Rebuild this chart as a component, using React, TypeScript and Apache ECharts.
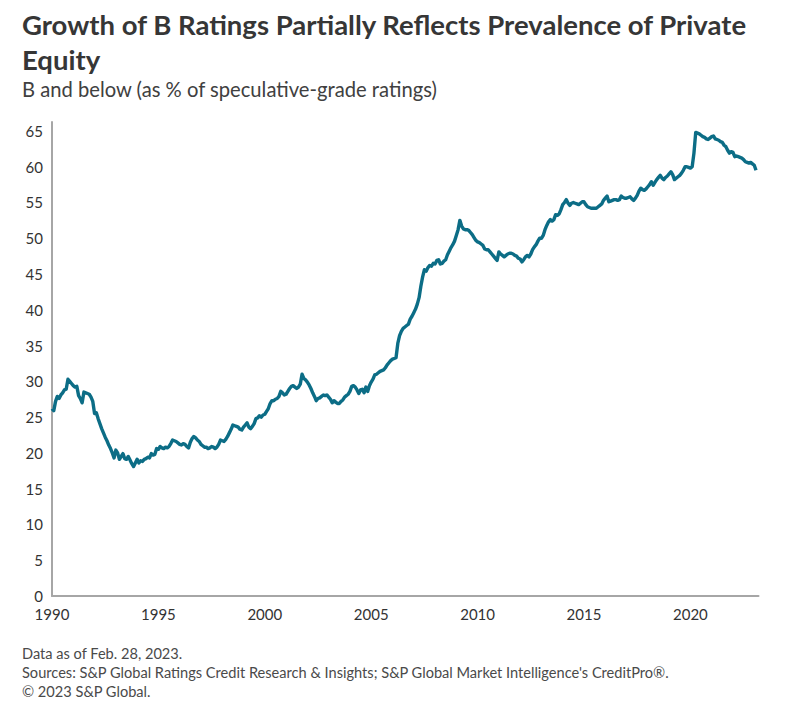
import React, { useEffect, useRef } from "react";
import * as echarts from "echarts";

// Monthly share of B and below in speculative-grade ratings (%), Jan 1990 – Feb 2023
const startYear = 1990;
const bShare: number[] = [
  // 1990
  26.2, 25.9, 27.2, 27.9, 27.6, 28.1, 28.4, 28.8, 28.9, 30.3, 30.0, 29.7,
  // 1991
  29.4, 29.2, 29.3, 28.0, 27.6, 27.0, 28.5, 28.4, 28.3, 28.2, 27.8, 27.2,
  // 1992
  25.5, 25.6, 24.8, 24.1, 23.4, 22.8, 22.2, 21.7, 21.1, 20.6, 20.0, 19.3,
  // 1993
  20.4, 20.0, 19.1, 19.5, 19.9, 19.2, 19.1, 19.5, 19.0, 18.5, 18.1, 18.6,
  // 1994
  19.1, 18.6, 18.9, 18.8, 19.1, 19.2, 19.4, 19.3, 19.9, 19.7, 19.8, 20.6,
  // 1995
  20.5, 20.9, 20.7, 20.6, 20.8, 20.7, 20.9, 21.3, 21.8, 21.7, 21.6, 21.4,
  // 1996
  21.2, 21.1, 21.3, 21.2, 20.9, 20.7, 21.5, 22.0, 22.3, 22.1, 21.8, 21.6,
  // 1997
  21.2, 21.0, 20.8, 20.8, 20.6, 20.7, 20.9, 20.8, 20.6, 20.8, 21.2, 21.8,
  // 1998
  21.7, 21.6, 21.9, 22.3, 22.8, 23.3, 23.9, 23.8, 23.7, 23.6, 23.3, 23.2,
  // 1999
  23.6, 23.9, 24.2, 23.6, 23.4, 23.7, 24.1, 24.8, 24.9, 25.2, 25.0, 25.3,
  // 2000
  25.4, 25.8, 26.2, 26.9, 27.3, 27.3, 27.5, 27.6, 27.9, 28.6, 28.4, 28.1,
  // 2001
  28.2, 28.6, 29.0, 29.3, 29.4, 29.2, 29.0, 29.2, 29.6, 31.0, 30.4, 30.2,
  // 2002
  29.9, 29.5, 29.0, 28.4, 27.9, 27.3, 27.6, 27.7, 27.9, 28.1, 28.0, 28.1,
  // 2003
  27.8, 27.5, 27.0, 27.3, 27.1, 26.9, 26.9, 27.2, 27.4, 27.8, 28.0, 28.2,
  // 2004
  28.6, 29.3, 29.4, 29.2, 28.8, 28.3, 28.8, 28.9, 28.4, 29.2, 28.6, 29.4,
  // 2005
  29.9, 30.3, 30.9, 31.0, 31.2, 31.4, 31.5, 31.6, 31.9, 32.3, 32.6, 32.9,
  // 2006
  33.1, 33.2, 33.3, 35.3, 36.4, 37.0, 37.4, 37.6, 37.8, 38.0, 38.7, 39.1,
  // 2007
  39.6, 40.1, 40.8, 41.7, 43.3, 44.6, 45.6, 45.4, 45.9, 46.2, 46.1, 46.5,
  // 2008
  46.4, 46.9, 47.0, 46.4, 46.5, 46.8, 47.0, 47.7, 48.2, 48.7, 49.1, 49.6,
  // 2009
  50.4, 51.2, 52.5, 51.7, 51.3, 51.2, 51.2, 51.1, 50.8, 50.5, 50.1, 49.7,
  // 2010
  49.5, 49.4, 49.2, 49.0, 48.5, 48.4, 48.4, 48.1, 47.8, 47.5, 47.2, 46.9,
  // 2011
  48.1, 47.8, 47.6, 47.4, 47.6, 47.8, 47.9, 47.9, 47.8, 47.6, 47.5, 47.2,
  // 2012
  47.1, 46.7, 47.0, 47.4, 47.6, 47.4, 47.8, 48.4, 48.8, 49.1, 49.6, 50.0,
  // 2013
  50.0, 50.4, 51.2, 51.8, 52.3, 52.6, 52.4, 52.6, 53.3, 53.2, 53.4, 54.0,
  // 2014
  54.7, 55.0, 55.4, 54.9, 54.6, 54.9, 55.0, 54.9, 54.8, 54.7, 54.9, 55.1,
  // 2015
  55.1, 54.7, 54.4, 54.3, 54.2, 54.2, 54.2, 54.2, 54.4, 54.6, 54.8, 55.3,
  // 2016
  55.6, 55.9, 55.1, 55.2, 55.3, 55.4, 55.4, 55.3, 55.4, 55.9, 55.7, 55.6,
  // 2017
  55.6, 55.7, 55.8, 55.5, 55.3, 55.6, 56.0, 56.6, 57.0, 56.8, 56.7, 56.9,
  // 2018
  57.2, 57.5, 57.9, 57.4, 57.8, 58.2, 58.5, 58.8, 58.4, 58.2, 58.5, 58.7,
  // 2019
  59.0, 59.3, 58.9, 58.2, 58.4, 58.6, 58.8, 59.1, 59.5, 60.0, 60.0, 59.9,
  // 2020
  59.8, 60.0, 61.9, 64.8, 64.7, 64.6, 64.4, 64.2, 64.1, 63.9, 63.8, 64.0,
  // 2021
  64.2, 64.3, 63.9, 63.8, 63.7, 63.5, 63.4, 63.0, 62.8, 62.3, 61.9, 62.1,
  // 2022
  62.0, 61.4, 61.5, 61.4, 61.3, 61.2, 61.0, 60.7, 60.6, 60.5, 60.6, 60.4,
  // 2023
  60.2, 59.5,
];

const xTickYears = [1990, 1995, 2000, 2005, 2010, 2015, 2020];
const yTickValues = [0, 5, 10, 15, 20, 25, 30, 35, 40, 45, 50, 55, 60, 65];

const titleLines = [
  "Growth of B Ratings Partially Reflects Prevalence of Private",
  "Equity",
];
const subtitle = "B and below (as % of speculative-grade ratings)";
const footnotes = [
  "Data as of Feb. 28, 2023.",
  "Sources: S&P Global Ratings Credit Research & Insights; S&P Global Market Intelligence's CreditPro®.",
  "© 2023 S&P Global.",
];

const FONT = "Lato, 'Noto Sans', sans-serif";

export default function App() {
  const ref = useRef<HTMLDivElement>(null);

  useEffect(() => {
    document.body.style.margin = "0";
    if (!ref.current) return;
    const chart = echarts.init(ref.current, undefined, { renderer: "svg" });

    const seriesData = bShare.map((v, i) => [startYear + i / 12, v]);

    const graphics: any[] = [];
    titleLines.forEach((t, i) => {
      graphics.push({
        type: "text",
        left: 22,
        top: 10 + i * 35,
        style: {
          text: t,
          fontFamily: FONT,
          fontSize: 27.5,
          fontWeight: "bold",
          fill: "#363636",
        },
      });
    });
    graphics.push({
      type: "text",
      left: 22,
      top: 79,
      style: {
        text: subtitle,
        fontFamily: FONT,
        fontSize: 20.2,
        fill: "#404040",
      },
    });
    footnotes.forEach((t, i) => {
      graphics.push({
        type: "text",
        left: 22,
        top: 646 + i * 19,
        style: {
          text: t,
          fontFamily: FONT,
          fontSize: 14.6,
          fill: "#4a4a4a",
        },
      });
    });

    chart.setOption({
      animation: false,
      backgroundColor: "#ffffff",
      textStyle: { fontFamily: FONT },
      graphic: graphics,
      grid: {
        left: 52,
        top: 122,
        width: 706.5,
        height: 474,
        containLabel: false,
      },
      xAxis: {
        type: "value",
        min: 1990,
        max: 2023.2,
        interval: 5,
        axisLine: { show: true, lineStyle: { color: "#a6a6a6", width: 2 } },
        axisTick: { show: false },
        splitLine: { show: false },
        axisLabel: {
          color: "#333333",
          fontFamily: FONT,
          fontSize: 15,
          lineHeight: 13,
          margin: 11,
          showMaxLabel: false,
          formatter: (v: number) =>
            xTickYears.includes(Math.round(v)) && Math.abs(v - Math.round(v)) < 1e-6
              ? String(Math.round(v))
              : "",
        },
      },
      yAxis: {
        type: "value",
        min: 0,
        max: 66.25,
        interval: 5,
        axisLine: { show: true, lineStyle: { color: "#a6a6a6", width: 2 } },
        axisTick: { show: false },
        splitLine: { show: false },
        axisLabel: {
          color: "#333333",
          fontFamily: FONT,
          fontSize: 15,
          lineHeight: 13,
          margin: 9,
          showMaxLabel: false,
          formatter: (v: number) =>
            yTickValues.includes(Math.round(v)) && Math.abs(v - Math.round(v)) < 1e-6
              ? String(Math.round(v))
              : "",
        },
      },
      series: [
        {
          type: "line",
          data: seriesData,
          showSymbol: false,
          symbol: "none",
          lineStyle: { color: "#0c6d86", width: 3.4, join: "round" },
          itemStyle: { color: "#0c6d86" },
        },
      ],
    });

    return () => chart.dispose();
  }, []);

  return <div ref={ref} style={{ width: 788, height: 716 }} />;
}
